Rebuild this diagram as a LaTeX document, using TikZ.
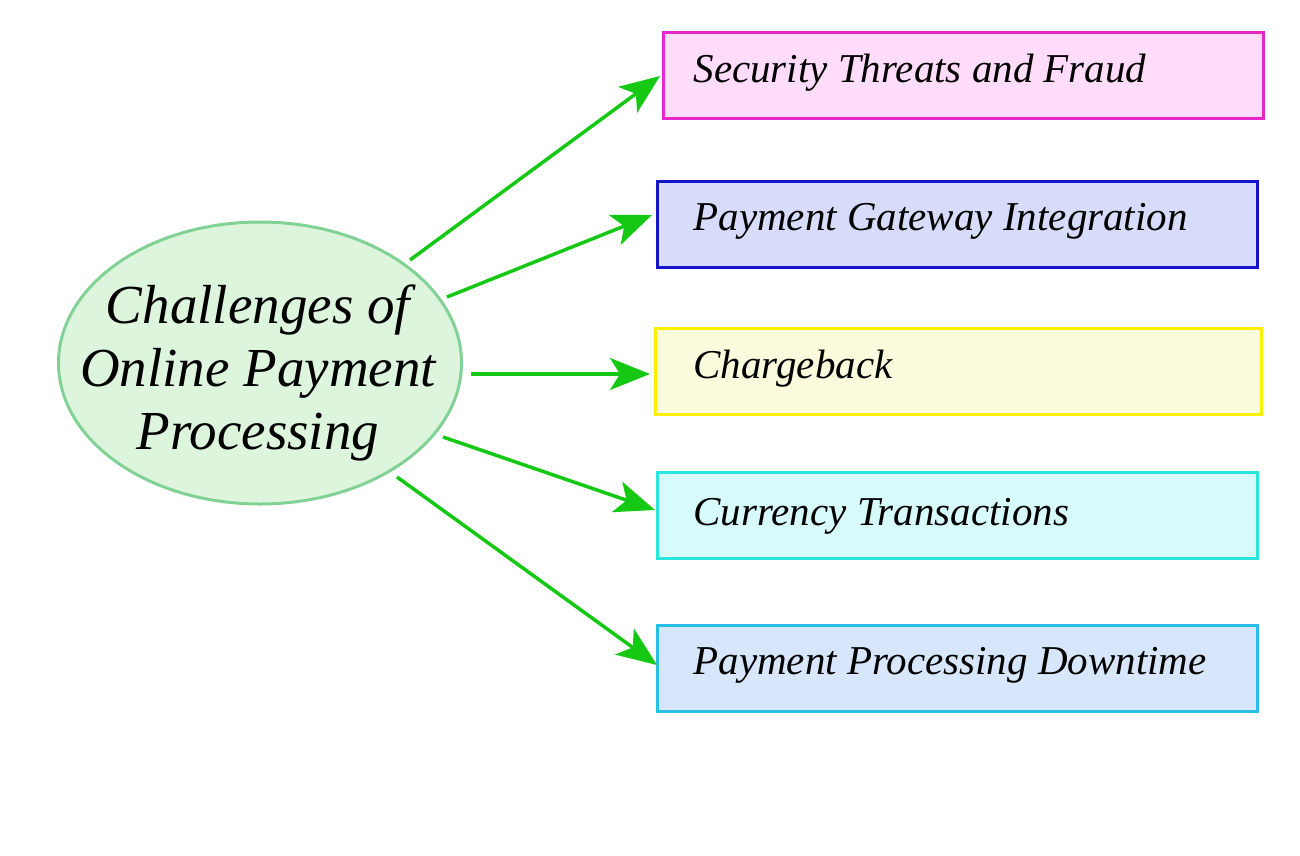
\documentclass[tikz,border=0pt]{standalone}
\usepackage{fontspec}
\setmainfont{Liberation Serif}
\usetikzlibrary{arrows.meta,shapes.geometric}
\definecolor{garrow}{RGB}{20,200,20}
\definecolor{efill}{RGB}{220,245,220}
\definecolor{eborder}{RGB}{130,210,150}
\tikzset{
  x=1pt,y=-1pt,
  box/.style={draw,line width=3pt,minimum width=600pt,minimum height=86pt,inner sep=0pt},
  lbl/.style={font=\itshape\fontsize{41}{46}\selectfont,anchor=west},
  arr/.style={garrow,line width=3.5pt,-{Stealth[length=40pt,width=32pt,inset=10pt]}}
}
\begin{document}
\begin{tikzpicture}
\useasboundingbox (0,0) rectangle (1300,855);
\node[ellipse,draw=eborder,fill=efill,line width=3pt,minimum width=403pt,minimum height=282pt,inner sep=0pt] (c) at (260,363) {};
\node[align=center,font=\itshape\fontsize{55}{63}\selectfont] (ct) at (258,373) {Challenges of\\Online Payment\\Processing};
\node[box,draw={rgb,255:red,230;green,40;blue,200},fill={rgb,255:red,255;green,220;blue,250}] (b1) at (963,75) {};
\node[box,draw={rgb,255:red,20;green,20;blue,200},fill={rgb,255:red,215;green,220;blue,250}] (b2) at (957,224) {};
\node[box,draw={rgb,255:red,250;green,240;blue,0},fill={rgb,255:red,250;green,250;blue,220},minimum width=606pt] (b3) at (958,371) {};
\node[box,draw={rgb,255:red,40;green,230;blue,220},fill={rgb,255:red,215;green,250;blue,250}] (b4) at (957,515) {};
\node[box,draw={rgb,255:red,40;green,190;blue,230},fill={rgb,255:red,215;green,230;blue,250}] (b5) at (957,668) {};
\node[lbl] (t1) at (690,73) {Security Threats and Fraud};
\node[lbl] (t2) at (690,221) {Payment Gateway Integration};
\node[lbl] (t3) at (690,369) {Chargeback};
\node[lbl] (t4) at (690,516) {Currency Transactions};
\node[lbl] (t5) at (690,665) {Payment Processing Downtime};
\coordinate (s1) at (410,260); \coordinate (e1) at (660,76);
\coordinate (s2) at (447,297); \coordinate (e2) at (652,215);
\coordinate (s3) at (471,374); \coordinate (e3) at (650,374);
\coordinate (s4) at (443,437); \coordinate (e4) at (655,510);
\coordinate (s5) at (397,477); \coordinate (e5) at (657,665);
\foreach \i in {1,...,5} {\draw[arr] (s\i) -- (e\i);}
\end{tikzpicture}
\end{document}
